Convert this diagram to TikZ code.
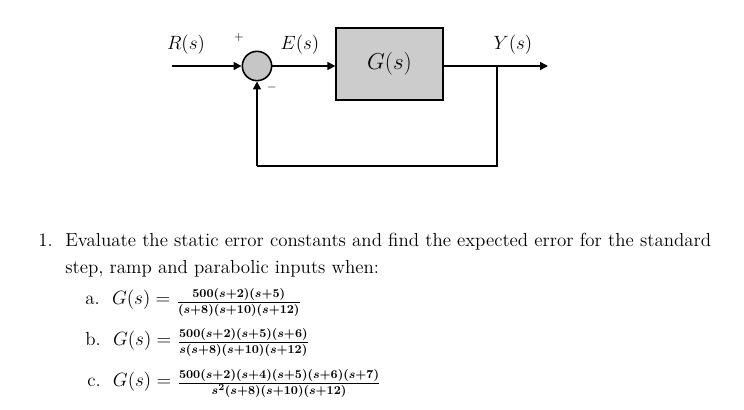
\documentclass[tikz,border=0pt]{standalone}
\usepackage{amsmath}
\usetikzlibrary{arrows.meta}
\newcommand{\myfr}[2]{{\fontsize{9.4}{11}\selectfont\boldmath$\dfrac{#1}{#2}$}}
\newcommand{\pl}{{+}}
\begin{document}
\begin{tikzpicture}[x=0.75pt,y=-0.75pt,
  sig/.style={line width=1.2pt,-{Triangle[length=6pt,width=6pt]}},
  wire/.style={line width=1.2pt},
  lab/.style={font=\fontsize{14}{16}\selectfont},
  txt/.style={anchor=base west,inner sep=0pt,font=\fontsize{14.2}{17}\selectfont}]
\useasboundingbox (0,0) rectangle (744,410);
\coordinate (in) at (172,66);
\node[circle,draw,fill=gray!45,line width=1.2pt,minimum size=22pt,inner sep=0pt] (sum) at (257,66) {};
\node[draw,fill=gray!40,line width=1.2pt,minimum width=80pt,minimum height=54pt] (G) at (389.5,64) {\fontsize{18}{20}\selectfont$G(s)$};
\coordinate (out) at (548,66);
\coordinate (br) at (497,66);
\coordinate (c1) at (497,166);
\coordinate (c2) at (257,166);
\draw[sig] (in) -- (sum);
\draw[sig] (sum) -- (G.west |- sum);
\draw[sig] (G.east |- sum) -- (out);
\draw[wire] (br) -- (c1) -- (c2);
\draw[sig] (c2) -- (sum.south);
\node[lab] (R) at (186,45) {$R(s)$};
\node (p) at (239,38) {\small $+$};
\node (m) at (272,88) {\small $-$};
\node[lab] (E) at (300,45) {$E(s)$};
\node[lab] (Y) at (513,45) {$Y(s)$};
\node[txt] (n1) at (38,247) {1.};
\node[txt] (l1) at (65,247) {Evaluate the static error constants and find the expected error for the standard};
\node[txt] (l2) at (65,273) {step, ramp and parabolic inputs when:};
\node[txt] (a) at (85,305) {a.\ \ $G(s)=$ \myfr{500(s\pl2)(s\pl5)}{(s\pl8)(s\pl10)(s\pl12)}};
\node[txt] (b) at (85,345) {b.\ \ $G(s)=$ \myfr{500(s\pl2)(s\pl5)(s\pl6)}{s(s\pl8)(s\pl10)(s\pl12)}};
\node[txt] (c) at (87,386) {c.\ \ $G(s)=$ \myfr{500(s\pl2)(s\pl4)(s\pl5)(s\pl6)(s\pl7)}{s^2(s\pl8)(s\pl10)(s\pl12)}};
\end{tikzpicture}
\end{document}
